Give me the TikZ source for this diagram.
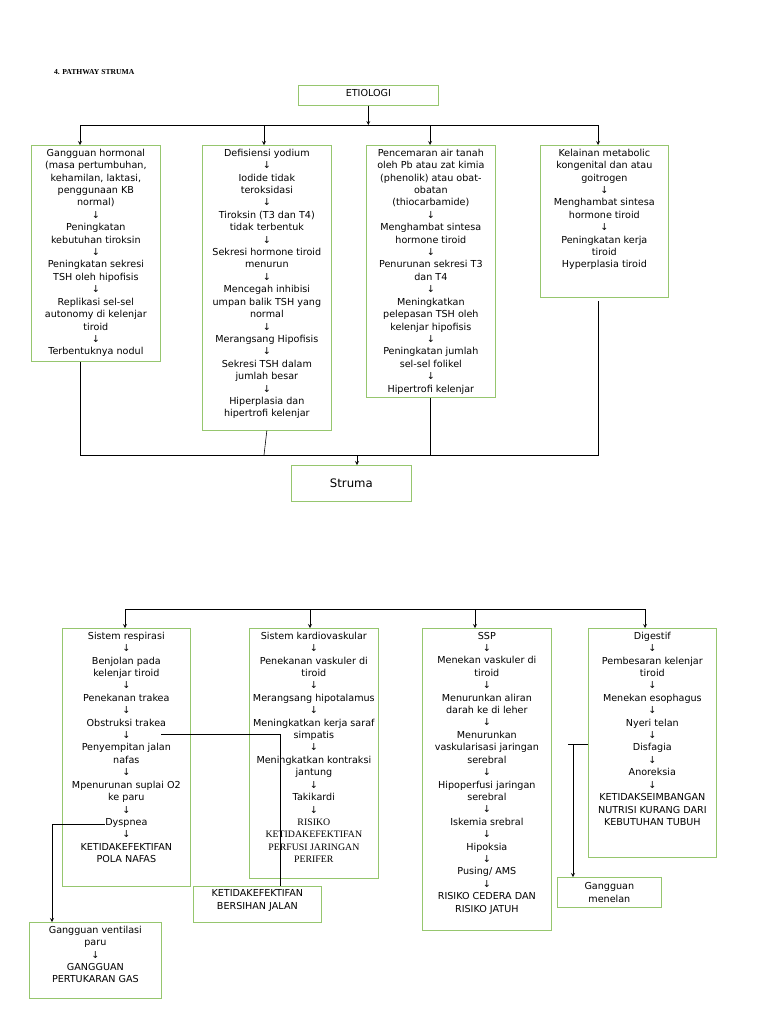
\documentclass[tikz,border=0pt]{standalone}
\usepackage{fontspec}
\setmainfont{DejaVu Sans}
\newfontfamily\serifbold{Liberation Serif}
\usetikzlibrary{positioning}
\newlength\px
\setlength\px{0.03cm}
\definecolor{boxgreen}{RGB}{150,198,110}
\newcommand\dn{\textdownarrow}
\tikzset{
thin, % all connectors thin
>=stealth, % small filled tips
panel/.style={draw=boxgreen,semithick,anchor=north west,inner sep=0pt,
  font=\fontsize{8.2}{10.6}\selectfont},
link/.style={draw=black,line width=0.5pt},
}
\newcommand\boxtext[3]{\parbox[t][#2\px][t]{#1\px}{\centering\vspace*{3pt}#3}}
\begin{document}
\begin{tikzpicture}[x=\px,y=-\px]
\useasboundingbox (0,0) rectangle (768,1024);
\node[anchor=west,font=\serifbold\bfseries\fontsize{6.5}{8}\selectfont] (title) at (50,72) {4. PATHWAY STRUMA};
% upper part
\node[panel] (etio) at (298,85) {\boxtext{140}{20}{ETIOLOGI}};
\node[panel] (hormon) at (31,145) {\boxtext{129}{216}{Gangguan hormonal\\(masa pertumbuhan,\\kehamilan, laktasi,\\penggunaan KB\\normal)\\\dn\\Peningkatan\\kebutuhan tiroksin\\\dn\\Peningkatan sekresi\\TSH oleh hipofisis\\\dn\\Replikasi sel-sel\\autonomy di kelenjar\\tiroid\\\dn\\Terbentuknya nodul}};
\node[panel] (yodium) at (202,145) {\boxtext{129}{285}{Defisiensi yodium\\\dn\\Iodide tidak\\teroksidasi\\\dn\\Tiroksin (T3 dan T4)\\tidak terbentuk\\\dn\\Sekresi hormone tiroid\\menurun\\\dn\\Mencegah inhibisi\\umpan balik TSH yang\\normal\\\dn\\Merangsang Hipofisis\\\dn\\Sekresi TSH dalam\\jumlah besar\\\dn\\Hiperplasia dan\\hipertrofi kelenjar}};
\node[panel] (cemar) at (366,145) {\boxtext{129}{252}{Pencemaran air tanah\\oleh Pb atau zat kimia\\(phenolik) atau obat-\\obatan\\(thiocarbamide)\\\dn\\Menghambat sintesa\\hormone tiroid\\\dn\\Penurunan sekresi T3\\dan T4\\\dn\\Meningkatkan\\pelepasan TSH oleh\\kelenjar hipofisis\\\dn\\Peningkatan jumlah\\sel-sel folikel\\\dn\\Hipertrofi kelenjar}};
\node[panel] (metab) at (540,145) {\boxtext{128}{152}{Kelainan metabolic\\kongenital dan atau\\goitrogen\\\dn\\Menghambat sintesa\\hormone tiroid\\\dn\\Peningkatan kerja\\tiroid\\Hyperplasia tiroid}};
\node[panel] (struma) at (291,465) {\parbox[c][36\px][c]{120\px}{\centering\fontsize{10}{12}\selectfont Struma}};
\coordinate (split1) at (80,125);
\coordinate (join1) at (80,455);
\draw[link,->] (etio.south) -- (etio.south |- split1);
\draw[link] (split1) -- (598,125);
\draw[link,->] (split1) -- (hormon.north -| split1);
\draw[link,->] (264,125) -- (264,145);
\draw[link,->] (430,125) -- (430,145);
\draw[link,->] (598,125) -- (598,145);
\draw[link] (hormon.south -| split1) -- (join1) -- (598,455) -- (598,301);
\draw[link] (yodium.south) -- (264,455);
\draw[link] (cemar.south -| 430,0) -- (430,455);
\draw[link,->] (357,455) -- (struma.north -| 357,0);
% lower part
\node[panel] (resp) at (62,628) {\boxtext{128}{258}{Sistem respirasi\\\dn\\Benjolan pada\\kelenjar tiroid\\\dn\\Penekanan trakea\\\dn\\Obstruksi trakea\\\dn\\Penyempitan jalan\\nafas\\\dn\\Mpenurunan suplai O2\\ke paru\\\dn\\Dyspnea\\\dn\\KETIDAKEFEKTIFAN\\POLA NAFAS}};
\node[panel] (kardio) at (249,628) {\boxtext{129}{250}{Sistem kardiovaskular\\\dn\\Penekanan vaskuler di\\tiroid\\\dn\\Merangsang hipotalamus\\\dn\\Meningkatkan kerja saraf\\simpatis\\\dn\\Meningkatkan kontraksi\\jantung\\\dn\\Takikardi\\\dn\\{\serifbold\fontsize{8.4}{10.6}\selectfont RISIKO KETIDAKEFEKTIFAN\\PERFUSI JARINGAN PERIFER}}};
\node[panel] (ssp) at (422,628) {\boxtext{129}{302}{SSP\\\dn\\Menekan vaskuler di\\tiroid\\\dn\\Menurunkan aliran\\darah ke di leher\\\dn\\Menurunkan\\vaskularisasi jaringan\\serebral\\\dn\\Hipoperfusi jaringan\\serebral\\\dn\\Iskemia srebral\\\dn\\Hipoksia\\\dn\\Pusing/ AMS\\\dn\\RISIKO CEDERA DAN\\RISIKO JATUH}};
\node[panel] (digest) at (588,628) {\boxtext{128}{229}{Digestif\\\dn\\Pembesaran kelenjar\\tiroid\\\dn\\Menekan esophagus\\\dn\\Nyeri telan\\\dn\\Disfagia\\\dn\\Anoreksia\\\dn\\KETIDAKSEIMBANGAN\\NUTRISI KURANG DARI\\KEBUTUHAN TUBUH}};
\node[panel] (bersih) at (193,886) {\boxtext{128}{36}{KETIDAKEFEKTIFAN\\BERSIHAN JALAN}};
\node[panel] (ventil) at (29,922) {\boxtext{132}{76}{Gangguan ventilasi\\paru\\\dn\\GANGGUAN\\PERTUKARAN GAS}};
\node[panel] (menelan) at (557,877) {\parbox[c][30\px][c]{104\px}{\centering Gangguan\\menelan}};
\coordinate (split2) at (125,609);
\coordinate (obstr) at (161,734);
\coordinate (dysp) at (105,824);
\coordinate (disf) at (568,744);
\draw[link] (split2) -- (645,609);
\draw[link,->] (split2) -- (resp.north -| split2);
\draw[link,->] (310,609) -- (310,628);
\draw[link,->] (475,609) -- (475,628);
\draw[link,->] (645,609) -- (645,628);
\draw[link] (obstr) -| ([xshift=23\px]bersih.north);
\draw[link,->] (dysp) -| ([xshift=23\px]ventil.north west);
\draw[link] (digest.west |- disf) -- (disf);
\draw[link,->] (573,744) -- (menelan.north -| 573,0);
\end{tikzpicture}
\end{document}
